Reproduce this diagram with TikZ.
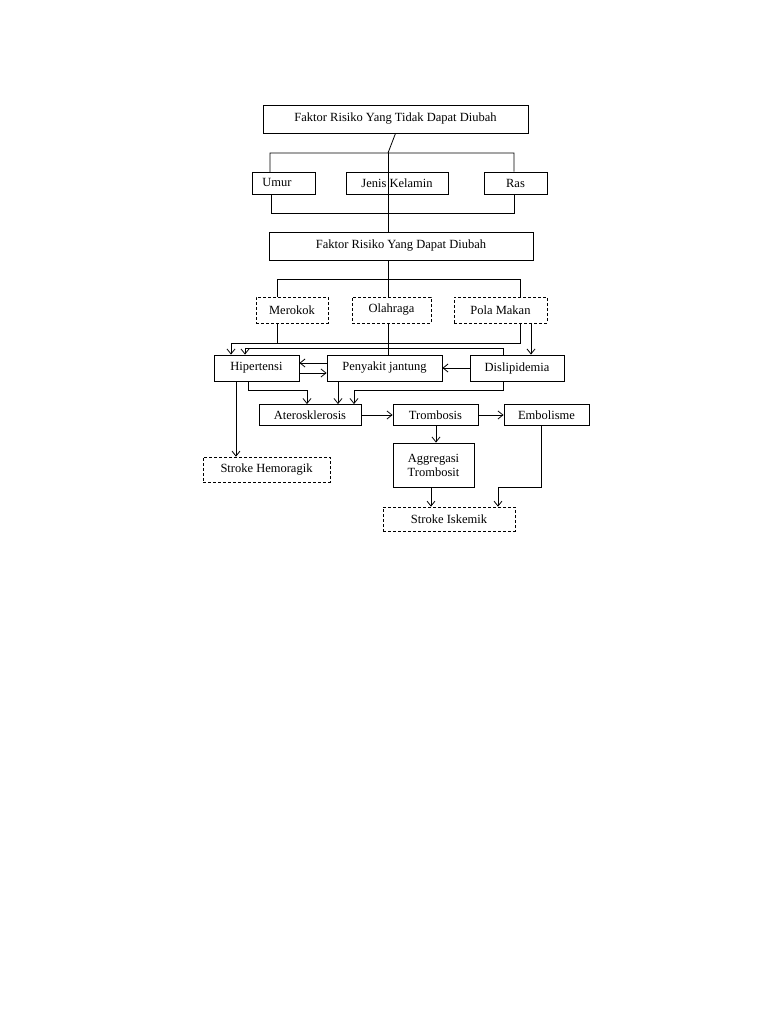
\documentclass[tikz,border=0pt]{standalone}
\usepackage{fontspec}
\setmainfont{Liberation Serif}
\usetikzlibrary{arrows.meta}
\begin{document}
\begin{tikzpicture}[x=1pt,y=-1pt,font=\fontsize{12.5}{14}\selectfont,
  bx/.style={draw,line width=0.8pt,inner sep=0pt,align=center},
  dbx/.style={bx,densely dashed,line width=0.6pt},
  ln/.style={line width=0.8pt},
  ar/.style={ln,-{Straight Barb[length=5pt,width=8pt]}}]
\useasboundingbox (0,0) rectangle (768,1024);
\newcommand{\bxat}[6]{\node[#1,minimum width=#4-#3,minimum height=#6-#5] (#2) at ({(#3+#4)/2},{(#5+#6)/2}) {};}
\node[bx,minimum width=265,minimum height=28] (top) at (395.5,119) {Faktor Risiko Yang Tidak Dapat Diubah};
\node[bx,minimum width=63,minimum height=22,anchor=north west] (umur) at (252,172) {};
\node at (277,182) {Umur};
\node[bx,minimum width=102,minimum height=22] (jk) at (397,183) {Jenis Kelamin};
\node[bx,minimum width=63,minimum height=22] (ras) at (515.5,183) {Ras};
\node[bx,minimum width=264,minimum height=28] (frd) at (401,246) {Faktor Risiko Yang Dapat Diubah};
\node[dbx,minimum width=72,minimum height=26] (mer) at (292,310) {Merokok};
\node[dbx,minimum width=79,minimum height=26] (ola) at (391.5,310) {Olahraga};
\node[dbx,minimum width=93,minimum height=26] (pol) at (500.5,310) {Pola Makan};
\node[bx,minimum width=85,minimum height=26] (hip) at (256.5,368) {Hipertensi};
\node[bx,minimum width=115,minimum height=26] (pj) at (384.5,368) {Penyakit jantung};
\node[bx,minimum width=94,minimum height=26] (dis) at (517,368) {Dislipidemia};
\node[bx,minimum width=102,minimum height=21] (ate) at (310,415) {Aterosklerosis};
\node[bx,minimum width=85,minimum height=21] (tro) at (435.5,415) {Trombosis};
\node[bx,minimum width=85,minimum height=21] (emb) at (546.5,415) {Embolisme};
\node[dbx,minimum width=127,minimum height=25] (sh) at (266.5,469.5) {Stroke Hemoragik};
\node[bx,minimum width=81,minimum height=44] (agg) at (433.5,465) {Aggregasi\\Trombosit};
\node[dbx,minimum width=132,minimum height=24] (si) at (449,519) {Stroke Iskemik};
% top bracket
\draw[ln] (top.south) -- (388,153) (270,172 |- umur.north) -- (270,153) -- (514,153) -- (514,172 |- ras.north);
\draw[ln] (271,194 |- umur.south) -- (271,213) -- (514,213) -- (514,194 |- ras.south);
\draw[ln] (388,153) -- (388,232 |- frd.north);
\draw[ln] (388,260 |- frd.south) -- (388,279) (277,279) -- (520,279);
\draw[ln] (277,279) -- (277,0 |- mer.north) (388,279) -- (388,0 |- ola.north) (520,279) -- (520,0 |- pol.north);
% row 2
\draw[ln] (277,0 |- mer.south) -- (277,343);
\draw[ar] (520,0 |- pol.south) -- (520,343) -- (231,343) -- (231,0 |- hip.north);
\draw[ar] (503,0 |- dis.north) -- (503,348) -- (245,348) -- (245,0 |- hip.north);
\draw[ln] (388,0 |- ola.south) -- (388,0 |- pj.north);
\draw[ar] (531,0 |- pol.south) -- (531,0 |- dis.north);
\draw[ar] (pj.west |- 0,363) -- (hip.east |- 0,363);
\draw[ar] (hip.east |- 0,373) -- (pj.west |- 0,373);
\draw[ar] (dis.west) -- (pj.east);
% row 3
\draw[ar] (248,0 |- hip.south) -- (248,390) -- (307,390) -- (307,0 |- ate.north);
\draw[ar] (338,0 |- pj.south) -- (338,0 |- ate.north);
\draw[ar] (503,0 |- dis.south) -- (503,390) -- (354,390) -- (354,0 |- ate.north);
\draw[ar] (ate.east) -- (tro.west);
\draw[ar] (tro.east) -- (emb.west);
\draw[ar] (236,0 |- hip.south) -- (236,0 |- sh.north);
\draw[ar] (436,0 |- tro.south) -- (436,0 |- agg.north);
\draw[ar] (431,0 |- agg.south) -- (431,0 |- si.north);
\draw[ar] (541,0 |- emb.south) -- (541,487) -- (498,487) -- (498,0 |- si.north);
\end{tikzpicture}
\end{document}
